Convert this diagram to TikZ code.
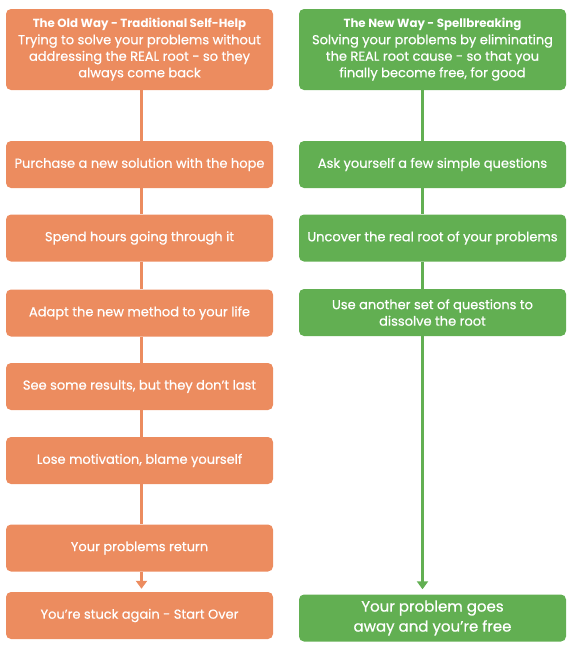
\documentclass[tikz,border=0pt]{standalone}
\usepackage{fontspec}
\setmainfont{Poppins}
\newfontfamily\stepfont{Poppins}[FakeBold=0.6]
\usepackage{xcolor}
\usetikzlibrary{positioning, arrows.meta}

\definecolor{oldway}{HTML}{EC8C5F}
\definecolor{newway}{HTML}{62AF52}

\tikzset{
  stepbox/.style={rectangle, rounded corners=5pt, text=white, align=center,
    minimum width=267pt, minimum height=47pt, inner sep=2pt, font=\stepfont\fontsize{13}{16.5}\selectfont},
  oldbox/.style={stepbox, fill=oldway},
  newbox/.style={stepbox, fill=newway},
  headbox/.style={minimum height=81pt},
  link/.style={line width=3pt},
  linkend/.style={link, -{Triangle[width=11pt,length=8pt]}}
}
\newcommand{\headline}[1]{{\rmfamily\bfseries\fontsize{11.8}{16.5}\selectfont #1}}

\begin{document}
\begin{tikzpicture}[node distance=2cm, on grid]
        \useasboundingbox (0,0) rectangle (579pt,-654pt);

        % old way
        \node[oldbox, headbox] (o0) at (139.5pt,-49.5pt)
          {\headline{The Old Way - Traditional Self-Help}\\Trying to solve your problems without\\addressing the REAL root - so they\\always come back};
        \node[oldbox, below=115pt of o0] (o1) {Purchase a new solution with the hope};
        \node[oldbox, below=73.5pt of o1] (o2) {Spend hours going through it};
        \node[oldbox, below=75pt of o2] (o3) {Adapt the new method to your life};
        \node[oldbox, below=73.5pt of o3] (o4) {See some results, but they don’t last};
        \node[oldbox, below=74pt of o4] (o5) {Lose motivation, blame yourself};
        \node[oldbox, below=87.5pt of o5] (o6) {Your problems return};
        \node[oldbox, below=67.5pt of o6] (o7) {You’re stuck again - Start Over};

        % new way
        \node[newbox, headbox] (n0) at (432.5pt,-49.5pt)
          {\headline{The New Way - Spellbreaking}\\Solving your problems by eliminating\\the REAL root cause - so that you\\finally become free, for good};
        \node[newbox, below=115pt of n0] (n1) {Ask yourself a few simple questions};
        \node[newbox, below=73.5pt of n1] (n2) {Uncover the real root of your problems};
        \node[newbox, below=74.5pt of n2] (n3) {Use another set of questions to\\dissolve the root};
        \node[newbox, below=305.5pt of n3, font=\stepfont\fontsize{15}{20}\selectfont] (n4) {Your problem goes\\away and you’re free};

        \path[link, draw=oldway]
        ([xshift=2pt]o0.south) edge ([xshift=2pt]o1.north)
        ([xshift=2pt]o1.south) edge ([xshift=2pt]o2.north)
        ([xshift=2pt]o2.south) edge ([xshift=2pt]o3.north)
        ([xshift=2pt]o3.south) edge ([xshift=2pt]o4.north)
        ([xshift=2pt]o4.south) edge ([xshift=2pt]o5.north)
        ([xshift=2pt]o5.south) edge ([xshift=2pt]o6.north);
        \draw[linkend, oldway, shorten >=3pt] ([xshift=2pt]o6.south) -- ([xshift=2pt]o7.north);

        \path[link, draw=newway]
        ([xshift=-10pt]n0.south) edge ([xshift=-10pt]n1.north)
        ([xshift=-10pt]n1.south) edge ([xshift=-10pt]n2.north)
        ([xshift=-10pt]n2.south) edge ([xshift=-10pt]n3.north);
        \draw[linkend, newway, shorten >=5pt] ([xshift=-10pt]n3.south) -- ([xshift=-10pt]n4.north);

    \end{tikzpicture}
\end{document}
